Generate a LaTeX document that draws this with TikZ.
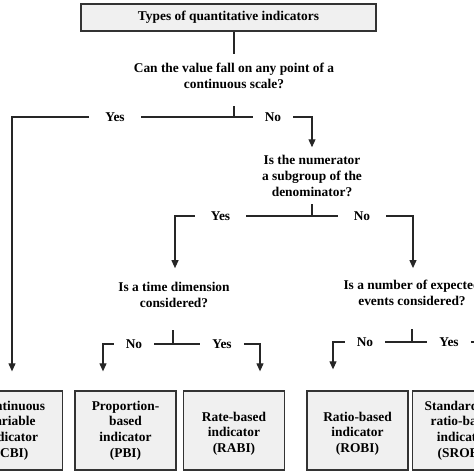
\documentclass[tikz,border=0pt]{standalone}
\usepackage{fontspec}
\setmainfont{Liberation Serif}
\usetikzlibrary{arrows.meta}

\tikzstyle{every node}=[font={\fontsize{13.4}{15.8}\selectfont\bfseries}, align=center, inner sep=2pt]
\tikzstyle{box}=[draw=black!80, line width=1.3pt, fill=black!6]
\tikzstyle{title}=[box, minimum width=295pt, minimum height=27pt]
\tikzstyle{indicator}=[box, minimum width=101pt, minimum height=79pt]
\tikzstyle{answer}=[inner xsep=12pt, text height=9pt, text depth=0pt]
\tikzstyle{wide}=[answer, inner xsep=16pt]
\tikzstyle{link}=[line width=1.1pt, black!85]
\tikzstyle{arrow}=[link, -{Triangle[width=7pt,length=8pt]}]

\begin{document}
\begin{tikzpicture}[x=1pt, y=-1pt]
    \useasboundingbox (0,0) rectangle (474,474);
    \clip (0,0) rectangle (474,474);

    % header and questions
    \node [title] (types) at (228.5,17.5) {Types of quantitative indicators};
    \node (continuous) at (234,76) {Can the value fall on any point of a\\continuous scale?};
    \node (subgroup) at (312,176) {Is the numerator\\a subgroup of the\\denominator?};
    \node (time) at (174,295) {Is a time dimension\\considered?};
    \node (expected) at (412,293) {Is a number of expected\\events considered?};

    % indicators
    \node [indicator] (cbi) at (12,430.5) {Continuous\\variable\\indicator\\(CBI)};
    \node [indicator] (pbi) at (125.5,430.5) {Proportion-\\based\\indicator\\(PBI)};
    \node [indicator] (rabi) at (234,430.5) {\mbox{}\\Rate-based\\indicator\\(RABI)};
    \node [indicator] (robi) at (357.5,430.5) {\mbox{}\\Ratio-based\\indicator\\(ROBI)};
    \node [indicator] (srobi) at (463,430.5) {Standardized\\ratio-based\\indicator\\(SROBI)};

    % answers
    \coordinate (split1) at (234,117);
    \node [wide] (yes1) at (115,117) {Yes};
    \node [answer] (no1) at (273,117) {No};
    \coordinate (split2) at (312,216);
    \node [wide] (yes2) at (220.5,216) {Yes};
    \node [wide] (no2) at (362,216) {No};
    \coordinate (split3) at (173,344);
    \node [answer] (no3) at (134,344) {No};
    \node [answer] (yes3) at (222,344) {Yes};
    \coordinate (split4) at (412,342);
    \node [answer] (no4) at (365,342) {No};
    \node [answer] (yes4) at (449,342) {Yes};

    % connectors
    \draw [link] (types.south -| split1) -- ([yshift=7pt]continuous.north);
    \draw [link] (split1) -- +(0,-11);
    \draw [link] (split1) -- (yes1.east);
    \draw [link] (split1) -- (no1.west);
    \draw [arrow] (yes1.west) -| ([yshift=19pt]cbi.north);
    \draw [arrow] (no1.east) -| ([yshift=6pt]subgroup.north);

    \draw [link] (split2) -- +(0,-12);
    \draw [link] (split2) -- (yes2.east);
    \draw [link] (split2) -- (no2.west);
    \draw [arrow] (yes2.west) -| ([xshift=1pt,yshift=12pt]time.north);
    \draw [arrow] (no2.east) -| ([xshift=1pt,yshift=10pt]expected.north);

    \draw [link] (split3) -- +(0,-14);
    \draw [link] (split3) -- (no3.east);
    \draw [link] (split3) -- (yes3.west);
    \draw [arrow] (no3.west) -| ([xshift=-22.5pt,yshift=19pt]pbi.north);
    \draw [arrow] (yes3.east) -| ([xshift=26pt,yshift=19pt]rabi.north);

    \draw [link] (split4) -- +(0,-13);
    \draw [link] (split4) -- (no4.east);
    \draw [link] (split4) -- (yes4.west);
    \draw [arrow] (no4.west) -| ([xshift=-24.5pt,yshift=21pt]robi.north);
    \draw [arrow] (yes4.east) -| ([xshift=26pt,yshift=19pt]srobi.north);
\end{tikzpicture}
\end{document}
